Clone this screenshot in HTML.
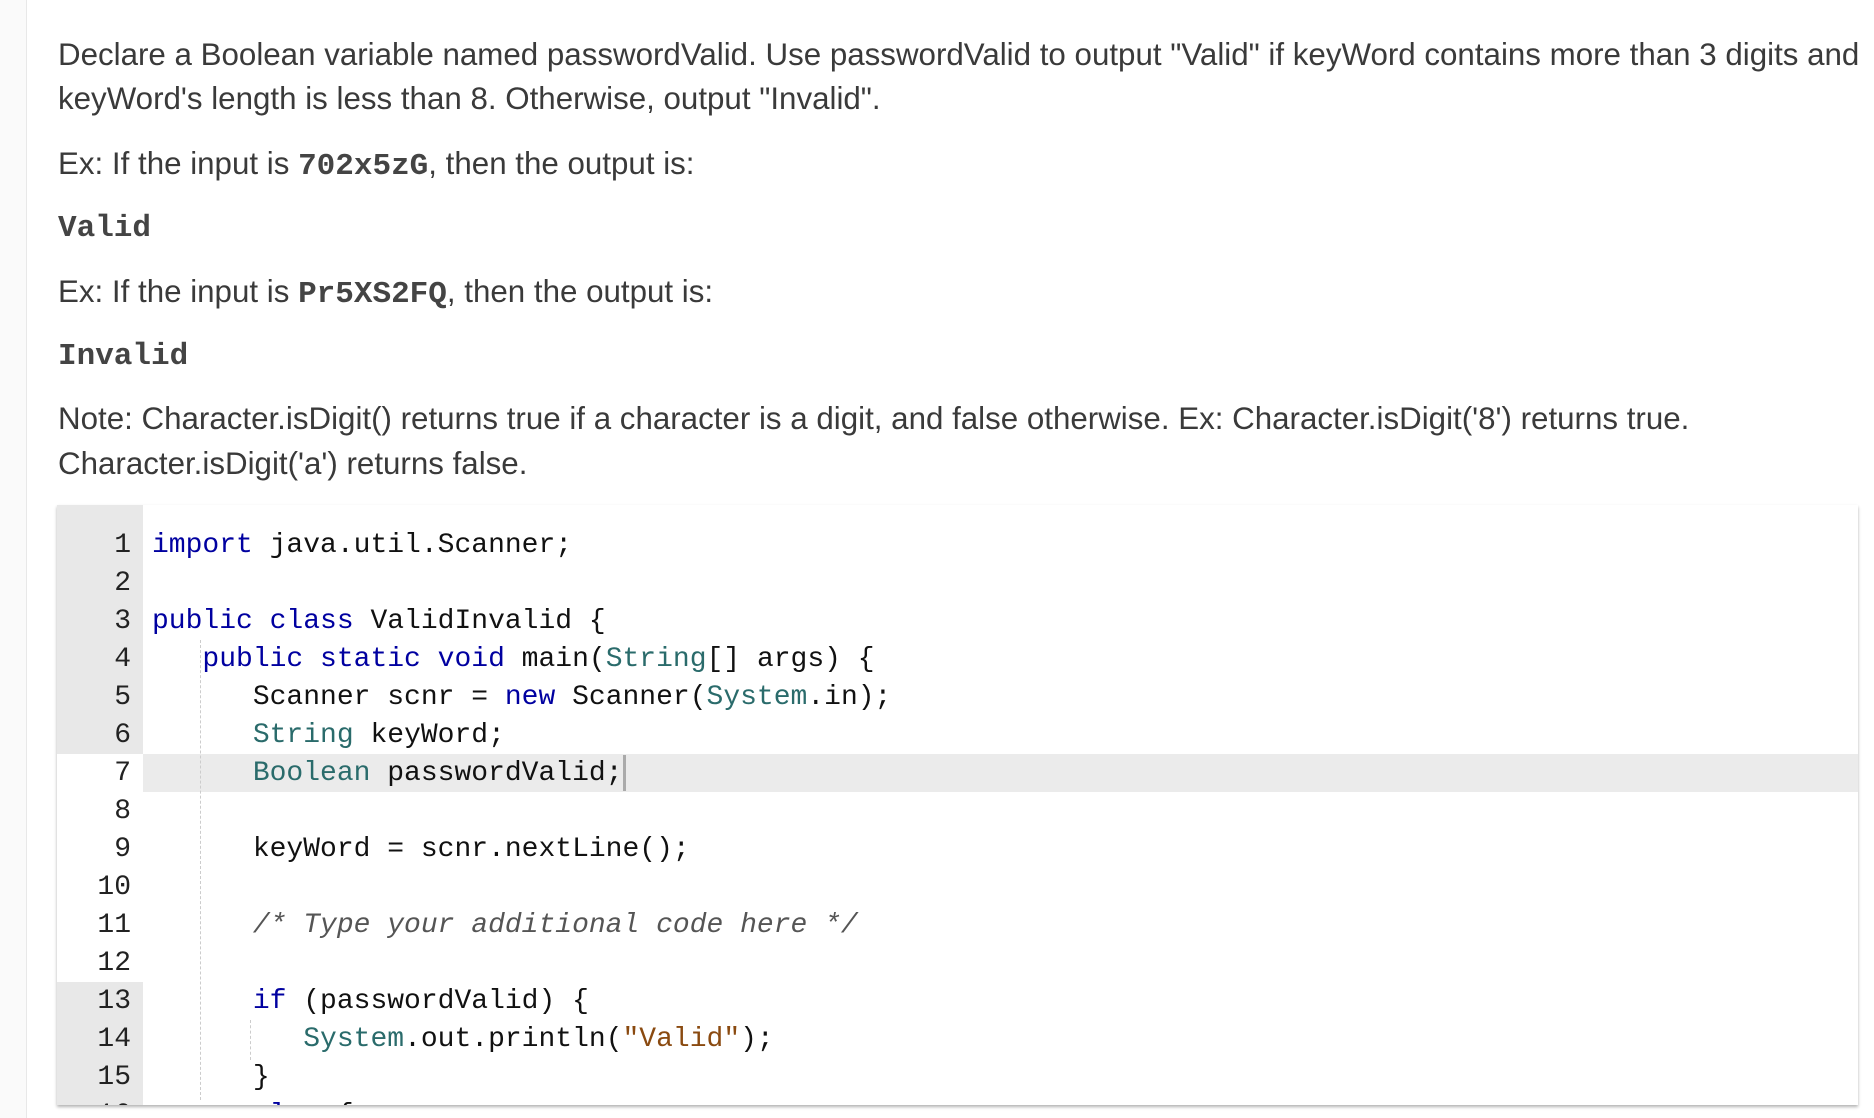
<!DOCTYPE html>
<html><head><meta charset="utf-8"><style>
body{margin:0;width:1874px;height:1118px;background:#fff;position:relative;overflow:hidden;font-family:"Liberation Sans",sans-serif;}
.side{position:absolute;left:0;top:0;width:26px;height:1118px;background:#fafafa;border-right:1px solid #e8e8e8;}
.t{position:absolute;left:58px;font-size:31.3px;color:#3a3a3a;white-space:nowrap;line-height:36px;font-weight:300;}
.m{font-family:"Liberation Mono",monospace;font-weight:bold;color:#444;font-size:31px;}
.box{position:absolute;left:57px;top:505px;width:1801px;height:600px;background:#fff;box-shadow:0 2px 3px rgba(0,0,0,.3);overflow:hidden;}
.g{position:absolute;left:0;width:86px;background:#e8e8e8;}
.hl{position:absolute;left:86px;top:249px;width:1715px;height:38px;background:#ebebeb;}
.ln{position:absolute;left:0;width:74px;text-align:right;font-family:"Liberation Mono",monospace;font-size:28px;color:#222;line-height:38px;}
.c{position:absolute;left:95px;font-family:"Liberation Mono",monospace;font-size:28px;color:#111;line-height:38px;white-space:pre;}
.k{color:#0000a0}.ty{color:#2a6b6b}.s{color:#8a4a10}.cm{color:#555;font-style:italic}
.guide{position:absolute;border-left:1px dashed #ccc;}
</style></head><body>
<div class="side"></div>
<div class="t" style="top:37px">Declare a Boolean variable named passwordValid. Use passwordValid to output "Valid" if keyWord contains more than 3 digits and</div>
<div class="t" style="top:81px">keyWord's length is less than 8. Otherwise, output "Invalid".</div>
<div class="t" style="top:146px">Ex: If the input is <span class="m">702x5zG</span>, then the output is:</div>
<div class="t m" style="top:211px">Valid</div>
<div class="t" style="top:274px">Ex: If the input is <span class="m">Pr5XS2FQ</span>, then the output is:</div>
<div class="t m" style="top:339px">Invalid</div>
<div class="t" style="top:401px">Note: Character.isDigit() returns true if a character is a digit, and false otherwise. Ex: Character.isDigit('8') returns true.</div>
<div class="t" style="top:446px">Character.isDigit('a') returns false.</div>
<div class="box">
<div class="g" style="top:0;height:249px"></div>
<div class="g" style="top:477px;height:123px"></div>
<div class="hl"></div>
<div class="guide" style="left:143px;top:135px;height:460px"></div>
<div class="guide" style="left:193px;top:515px;height:40px"></div>
<div style="position:absolute;left:566px;top:250px;width:3px;height:36px;background:#aaa"></div>
<div class="ln" style="top:22px">1</div><div class="ln" style="top:60px">2</div><div class="ln" style="top:98px">3</div><div class="ln" style="top:136px">4</div><div class="ln" style="top:174px">5</div><div class="ln" style="top:212px">6</div><div class="ln" style="top:250px">7</div><div class="ln" style="top:288px">8</div><div class="ln" style="top:326px">9</div><div class="ln" style="top:364px">10</div><div class="ln" style="top:402px">11</div><div class="ln" style="top:440px">12</div><div class="ln" style="top:478px">13</div><div class="ln" style="top:516px">14</div><div class="ln" style="top:554px">15</div><div class="ln" style="top:592px">16</div>
<div class="c" style="top:22px"><span class="k">import</span> java.util.Scanner;</div>
<div class="c" style="top:98px"><span class="k">public class</span> ValidInvalid {</div>
<div class="c" style="top:136px">   <span class="k">public static void</span> main(<span class="ty">String</span>[] args) {</div>
<div class="c" style="top:174px">      Scanner scnr = <span class="k">new</span> Scanner(<span class="ty">System</span>.in);</div>
<div class="c" style="top:212px">      <span class="ty">String</span> keyWord;</div>
<div class="c" style="top:250px">      <span class="ty">Boolean</span> passwordValid;</div>
<div class="c" style="top:326px">      keyWord = scnr.nextLine();</div>
<div class="c" style="top:402px">      <span class="cm">/* Type your additional code here */</span></div>
<div class="c" style="top:478px">      <span class="k">if</span> (passwordValid) {</div>
<div class="c" style="top:516px">         <span class="ty">System</span>.out.println(<span class="s">"Valid"</span>);</div>
<div class="c" style="top:554px">      }</div>
<div class="c" style="top:592px">      <span class="k">else</span> {</div>
</div>
</body></html>
